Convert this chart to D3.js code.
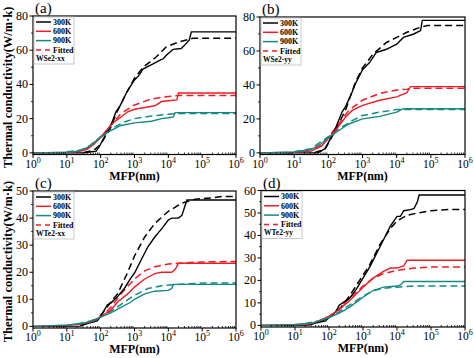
<!DOCTYPE html>
<html><head><meta charset="utf-8">
<script src="https://cdn.jsdelivr.net/npm/d3@7"></script>
<style>body{margin:0;background:#fff}svg{display:block}</style>
</head><body>
<svg id="c" width="474" height="358"></svg>
<script>
// ---- data: points are [log10(MFP/nm), kappa] ----
const panelLabels = ["(a)", "(b)", "(c)", "(d)"];
const materialLabels = ["WSe2-xx", "WSe2-yy", "WTe2-xx", "WTe2-yy"];
const yMax = [80, 80, 50, 60];
const yTickStep = [20, 20, 10, 10];
const seriesNames = ["300K", "600K", "900K", "Fitted"];
const seriesColors = ["#000000", "#ee1c25", "#138a85"];
const xTickExps = [0, 1, 2, 3, 4, 5, 6];

const a300 = [[0,0],[1.5,0],[1.67,0.5],[1.87,1],[1.97,4],[2.1,9],[2.17,12],[2.25,14],[2.36,19],[2.45,24],[2.56,27],[2.66,31],[2.76,35],[2.88,39],[3.0,42.6],[3.12,45],[3.25,49],[3.4,50.5],[3.55,52],[3.74,54],[3.85,55],[3.94,57],[4.05,59],[4.14,60.5],[4.38,61],[4.53,64],[4.62,66],[4.68,70.7],[6,70.7]];
const a300f = [[1.5,0.2],[1.8,1.5],[2.0,5],[2.15,10],[2.27,13.5],[2.46,23],[2.76,35],[3.0,43.6],[3.25,50],[3.64,56],[3.94,62],[4.33,65],[4.73,67],[6,67]];
const a600 = [[0,0],[1.0,0.3],[1.3,0.5],[1.6,2],[1.8,5],[2.0,9],[2.2,14],[2.4,18],[2.6,21],[2.8,24],[3.0,25.5],[3.3,26.5],[3.6,27.5],[3.8,30],[4.0,30.5],[4.25,31],[4.3,35],[6,35]];
const a600f = [[1.2,0.5],[1.6,2.5],[2.0,9],[2.3,16],[2.6,23],[3.0,28],[3.5,31.5],[4.0,33],[4.3,33.5],[6,33.5]];
const a900 = [[0,0],[1.0,0.4],[1.3,0.8],[1.6,3],[1.8,6],[2.0,9],[2.2,12],[2.4,14],[2.6,16],[3.0,17.5],[3.5,18.5],[3.8,20],[4.0,20.5],[4.15,21],[4.2,23.5],[6,23.5]];
const a900f = [[1.0,0.6],[1.4,1.5],[1.7,4.5],[2.0,9.5],[2.3,14],[2.7,18],[3.0,20],[3.5,21.5],[4.0,22.5],[4.3,23],[6,23]];

const b300 = [[0,0],[1.7,0],[1.9,2.5],[2.0,6],[2.2,14],[2.4,24],[2.5,27],[2.6,31.5],[2.7,36],[2.8,41],[3.0,49],[3.2,53],[3.4,59],[3.7,61],[4.0,64],[4.2,68],[4.5,70],[4.7,72],[4.75,78],[6,78]];
const b300f = [[1.6,0.3],[1.9,2],[2.2,13],[2.5,25],[2.8,42],[3.0,50],[3.3,58],[3.7,65],[4.0,68],[4.3,71],[4.7,74],[4.9,75],[6,75]];
const b600 = [[0,0],[1.0,0.4],[1.5,1],[1.8,4],[2.0,8.5],[2.2,13],[2.5,21],[2.7,25],[3.0,28],[3.5,31],[4.0,33],[4.3,35.5],[4.4,39],[6,39]];
const b600f = [[1.3,0.8],[1.7,3.5],[2.0,9],[2.3,17],[2.6,25],[3.0,31],[3.5,35],[4.0,37],[4.3,37.5],[4.5,38],[6,38]];
const b900 = [[0,0],[1.0,0.5],[1.5,2],[1.8,5.5],[2.0,9],[2.3,13],[2.6,17],[3.0,20],[3.5,21.5],[4.0,24],[4.2,26],[6,26]];
const b900f = [[1.0,0.6],[1.5,2.5],[2.0,9.5],[2.3,14],[2.7,19],[3.0,22],[3.5,24],[4.0,25.5],[6,25.5]];

const c300 = [[0,0],[1.4,0.1],[1.6,1],[1.9,2],[2.0,3.7],[2.2,8],[2.3,8.6],[2.5,11],[2.7,14],[2.9,18],[3.0,19.7],[3.2,24.6],[3.4,29.5],[3.6,33],[3.8,36],[4.0,39.3],[4.1,40],[4.3,40],[4.4,41],[4.55,46.7],[6,46.7]];
const c300f = [[1.4,0.3],[1.8,2],[2.0,4],[2.3,9],[2.5,12],[2.8,20],[3.0,26],[3.3,33],[3.6,38],[4.0,42.5],[4.4,45.5],[4.8,47],[5.3,47.5],[5.6,48],[6,48]];
const c600 = [[0,0],[1.0,0.3],[1.5,1],[1.8,2],[2.0,3.5],[2.3,6],[2.5,9],[2.8,12],[3.0,14.5],[3.3,17.5],[3.6,19.5],[3.8,20],[4.1,20],[4.2,21],[4.3,23.3],[6,23.3]];
const c600f = [[1.3,0.7],[1.7,1.8],[2.0,3.5],[2.3,7],[2.6,12],[3.0,17.5],[3.3,20.5],[3.6,22],[4.0,23],[4.5,23.5],[5.0,23.8],[6,24]];
const c900 = [[0,0],[1.0,0.5],[1.5,1.2],[1.8,2.2],[2.0,3.4],[2.3,5],[2.6,7],[2.9,9],[3.0,10],[3.3,12],[3.6,13],[4.0,13.3],[4.1,14],[4.15,15.5],[6,15.5]];
const c900f = [[1.3,0.9],[1.7,2],[2.0,3.5],[2.3,5.5],[2.7,9],[3.0,11.5],[3.4,14],[3.8,15],[4.0,15.3],[5.0,16],[6,16]];

const d300 = [[0,0],[1.4,0.1],[1.6,1],[1.9,2],[2.0,3.5],[2.2,6],[2.3,9],[2.4,10],[2.6,12],[2.8,16],[3.0,21],[3.2,26],[3.4,32],[3.6,38],[3.8,44],[4.0,48.5],[4.1,48.5],[4.2,51],[4.4,51.5],[4.5,52],[4.6,55],[4.65,58],[6,58]];
const d300f = [[1.4,0.3],[1.8,2],[2.0,3.5],[2.3,7],[2.6,13],[2.9,20],[3.2,27],[3.5,36],[3.8,43],[4.0,46.5],[4.3,49],[4.6,50],[5.0,51],[5.5,51.5],[6,51.5]];
const d600 = [[0,0],[1.0,0.3],[1.5,0.8],[2.0,4],[2.3,7],[2.6,11],[3.0,17],[3.3,21],[3.6,24],[3.8,25.5],[4.0,25.5],[4.2,26.5],[4.3,29],[6,29]];
const d600f = [[1.3,0.6],[1.7,1.8],[2.0,4],[2.3,7.5],[2.6,12],[3.0,17.5],[3.3,21],[3.6,23],[4.0,24.5],[4.5,25.5],[5.0,26],[6,26]];
const d900 = [[0,0],[1.0,0.4],[1.5,1],[2.0,3.5],[2.3,5.5],[2.6,8],[3.0,12.5],[3.3,15.5],[3.6,17],[4.0,17.5],[4.1,18],[4.2,19.5],[6,19.5]];
const d900f = [[1.3,0.8],[1.7,2],[2.0,3.5],[2.3,6],[2.7,10],[3.0,13],[3.3,15.5],[3.6,16.5],[4.0,17],[4.5,17.5],[6,17.5]];

const panelSolid = [[a300,a600,a900],[b300,b600,b900],[c300,c600,c900],[d300,d600,d900]];
const panelFitted = [[a300f,a600f,a900f],[b300f,b600f,b900f],[c300f,c600f,c900f],[d300f,d600f,d900f]];

// ---- layout ----
const boxes = [
  {l:33, r:236, t:16, b:154.5},
  {l:260, r:465, t:17, b:154.5},
  {l:33, r:236, t:191, b:328},
  {l:261, r:465, t:190.5, b:327}
];
const serif = "'Liberation Serif','Times New Roman',serif";
const svg = d3.select("#c");

panelLabels.forEach((lab, i) => {
  const bx = boxes[i];
  const g = svg.append("g");
  const x = d3.scaleLog().domain([1, 1e6]).range([bx.l, bx.r]);
  const padUnits = yMax[i] * 0.012;
  const y = d3.scaleLinear().domain([-padUnits, yMax[i]]).range([bx.b, bx.t]);

  const cid = "clip" + i;
  svg.append("clipPath").attr("id", cid).append("rect")
    .attr("x", bx.l).attr("y", bx.t).attr("width", bx.r - bx.l).attr("height", bx.b - bx.t);

  const line = d3.line().x(d => x(Math.pow(10, d[0]))).y(d => y(d[1]));
  const cg = g.append("g").attr("clip-path", `url(#${cid})`);
  panelFitted[i].forEach((s, k) => {
    cg.append("path").attr("d", line(s)).attr("fill", "none")
      .attr("stroke", seriesColors[k]).attr("stroke-width", 1.5)
      .attr("stroke-dasharray", "7,4");
  });
  panelSolid[i].forEach((s, k) => {
    cg.append("path").attr("d", line(s)).attr("fill", "none")
      .attr("stroke", seriesColors[k]).attr("stroke-width", 1.4);
  });

  g.append("rect").attr("x", bx.l).attr("y", bx.t).attr("width", bx.r - bx.l).attr("height", bx.b - bx.t)
    .attr("fill", "none").attr("stroke", "#000").attr("stroke-width", 1.2);

  const xt = g.append("g");
  xTickExps.forEach(e => {
    const px = x(Math.pow(10, e));
    xt.append("line").attr("x1", px).attr("x2", px).attr("y1", bx.b).attr("y2", bx.b + 3.5).attr("stroke", "#000").attr("stroke-width", 1);
    const t = xt.append("text").attr("x", px).attr("y", bx.b + 13).attr("text-anchor", "middle")
      .attr("font-family", serif).attr("font-size", 11.5).attr("fill", "#000");
    t.append("tspan").text("10");
    t.append("tspan").attr("dy", -5).attr("font-size", 8).text(e);
    if (e < 6) {
      for (let m = 2; m <= 9; m++) {
        const mx = x(m * Math.pow(10, e));
        xt.append("line").attr("x1", mx).attr("x2", mx).attr("y1", bx.b).attr("y2", bx.b - 2).attr("stroke", "#000").attr("stroke-width", 0.8);
      }
    }
  });
  g.append("text").attr("x", (bx.l + bx.r) / 2).attr("y", bx.b + 25)
    .attr("text-anchor", "middle").attr("font-family", serif).attr("font-weight", "bold")
    .attr("font-size", 12).text("MFP(nm)");

  const yt = d3.range(0, yMax[i] + 0.001, yTickStep[i]);
  yt.forEach(v => {
    const py = y(v);
    g.append("line").attr("x1", bx.l - 3.5).attr("x2", bx.l).attr("y1", py).attr("y2", py).attr("stroke", "#000");
    g.append("text").attr("x", bx.l - 5).attr("y", py + 4).attr("text-anchor", "end")
      .attr("font-family", serif).attr("font-size", 12).text(v);
    if (v < yMax[i]) {
      const pm = y(v + yTickStep[i] / 2);
      g.append("line").attr("x1", bx.l - 2).attr("x2", bx.l).attr("y1", pm).attr("y2", pm).attr("stroke", "#000").attr("stroke-width", 0.8);
    }
  });

  g.append("text").attr("x", bx.l + 2).attr("y", bx.t - 3).attr("font-family", serif)
    .attr("font-size", 15).text(lab);

  const lg = g.append("g");
  const lx = bx.l + 1, ly = bx.t + 1;
  lg.append("rect").attr("x", lx).attr("y", ly).attr("width", 40).attr("height", 47)
    .attr("fill", "#fff").attr("stroke", "#bbb").attr("stroke-width", 0.8);
  seriesNames.forEach((nm, k) => {
    const yy = ly + 5 + k * 9.3;
    const col = k < 3 ? seriesColors[k] : seriesColors[1];
    lg.append("line").attr("x1", lx + 2).attr("x2", lx + 17).attr("y1", yy).attr("y2", yy)
      .attr("stroke", col).attr("stroke-width", 1.5).attr("stroke-dasharray", k === 3 ? "5,4" : null);
    lg.append("text").attr("x", lx + 19).attr("y", yy + 2.8).attr("font-family", serif)
      .attr("font-weight", "bold").attr("font-size", 8).text(nm);
  });
  lg.append("text").attr("x", lx + 2).attr("y", ly + 43.5).attr("font-family", serif)
    .attr("font-weight", "bold").attr("font-size", 7.5).text(materialLabels[i]);
});

[0, 2].forEach(i => {
  const bx = boxes[i];
  const cy = (bx.t + bx.b) / 2 + 2;
  svg.append("text").attr("transform", `translate(12,${cy}) rotate(-90)`)
    .attr("text-anchor", "middle").attr("font-family", serif).attr("font-weight", "bold")
    .attr("font-size", 12.5).text("Thermal conductivity(W/m·k)");
});
</script>
</body></html>
